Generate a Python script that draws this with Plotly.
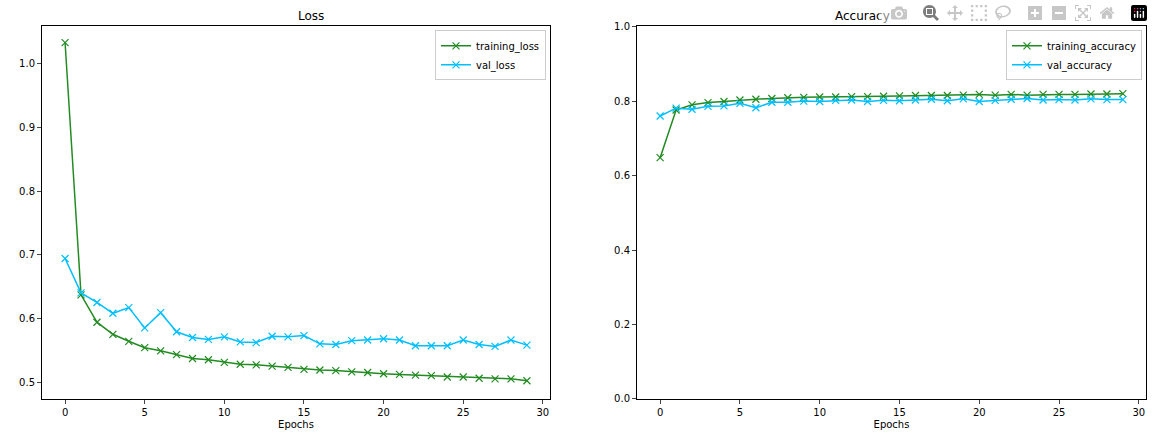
import plotly.graph_objects as go

epochs = list(range(30))
training_loss = [1.033, 0.637, 0.594, 0.575, 0.564, 0.554, 0.549, 0.543, 0.537, 0.535, 0.531, 0.528, 0.527, 0.525, 0.523, 0.520, 0.519, 0.518, 0.516, 0.515, 0.513, 0.512, 0.511, 0.510, 0.508, 0.508, 0.506, 0.505, 0.505, 0.502]
val_loss = [0.694, 0.640, 0.625, 0.608, 0.617, 0.585, 0.609, 0.579, 0.570, 0.567, 0.571, 0.563, 0.562, 0.572, 0.571, 0.573, 0.560, 0.559, 0.565, 0.566, 0.568, 0.566, 0.557, 0.557, 0.557, 0.566, 0.559, 0.556, 0.566, 0.558]
training_accuracy = [0.648, 0.776, 0.790, 0.796, 0.799, 0.803, 0.805, 0.807, 0.809, 0.810, 0.811, 0.811, 0.812, 0.812, 0.813, 0.814, 0.815, 0.815, 0.815, 0.816, 0.818, 0.816, 0.818, 0.816, 0.818, 0.818, 0.818, 0.819, 0.819, 0.820]
val_accuracy = [0.760, 0.781, 0.778, 0.786, 0.787, 0.794, 0.782, 0.797, 0.797, 0.800, 0.799, 0.802, 0.803, 0.799, 0.802, 0.801, 0.803, 0.805, 0.801, 0.806, 0.799, 0.802, 0.805, 0.807, 0.803, 0.804, 0.803, 0.806, 0.804, 0.804]

GREEN = "#228b22"
BLUE = "#00bfff"

fig = go.Figure()
def add(y, name, color, xa, ya, lg):
    fig.add_trace(go.Scatter(x=epochs, y=y, name=name, mode="lines+markers",
                             line=dict(color=color, width=1.5),
                             marker=dict(symbol="x-thin", size=7, line=dict(color=color, width=1.2)),
                             xaxis=xa, yaxis=ya, legend=lg))
add(training_loss, "training_loss", GREEN, "x", "y", "legend")
add(val_loss, "val_loss", BLUE, "x", "y", "legend")
add(training_accuracy, "training_accuracy", GREEN, "x2", "y2", "legend2")
add(val_accuracy, "val_accuracy", BLUE, "x2", "y2", "legend2")

axcommon = dict(showline=True, linecolor="black", mirror=True, ticks="outside", ticklen=4,
                showgrid=False, zeroline=False, tickfont=dict(size=10, color="black"))
TOP = 5
ydom = [1 - 404/441, 1 - TOP/441]
fig.update_layout(
    width=1153, height=441, margin=dict(l=0, r=0, t=0, b=0),
    plot_bgcolor="white", paper_bgcolor="white",
    font=dict(family="DejaVu Sans", color="black"),
    xaxis=dict(domain=[42/1153, 550/1153], range=[-1.45, 30.45], dtick=5,
               title=dict(text="Epochs", font=dict(size=10), standoff=4), **axcommon),
    yaxis=dict(domain=[1 - 404/441, 1 - 22/441], range=[0.4735, 1.0585], dtick=0.1, tickformat=".1f", anchor="x", **axcommon),
    xaxis2=dict(domain=[637/1153, 1146/1153], range=[-1.45, 30.45], dtick=5, anchor="y2",
                title=dict(text="Epochs", font=dict(size=10), standoff=4), **axcommon),
    yaxis2=dict(domain=[1 - 404/441, 1 - 22/441], range=[0, 1.0005], dtick=0.2, tickformat=".1f", anchor="x2", **axcommon),
    legend=dict(x=546/1153, y=1 - 26/441, xanchor="right", yanchor="top", bordercolor="#cccccc",
                borderwidth=1, font=dict(size=10), bgcolor="white"),
    legend2=dict(x=1142/1153, y=1 - 26/441, xanchor="right", yanchor="top", bordercolor="#cccccc",
                 borderwidth=1, font=dict(size=10), bgcolor="white"),
    annotations=[
        dict(text="Loss", x=(42+550)/2/1153, y=1 - 22/441, xref="paper", yref="paper",
             yanchor="bottom", yshift=1, showarrow=False, font=dict(size=12)),
        dict(text="Accuracy", x=(637+1146)/2/1153, y=1 - 22/441, xref="paper", yref="paper",
             yanchor="bottom", yshift=1, showarrow=False, font=dict(size=12)),
    ],
)
fig.write_html("out.html", post_script="document.body.style.margin='0';document.body.style.overflow='hidden';")
